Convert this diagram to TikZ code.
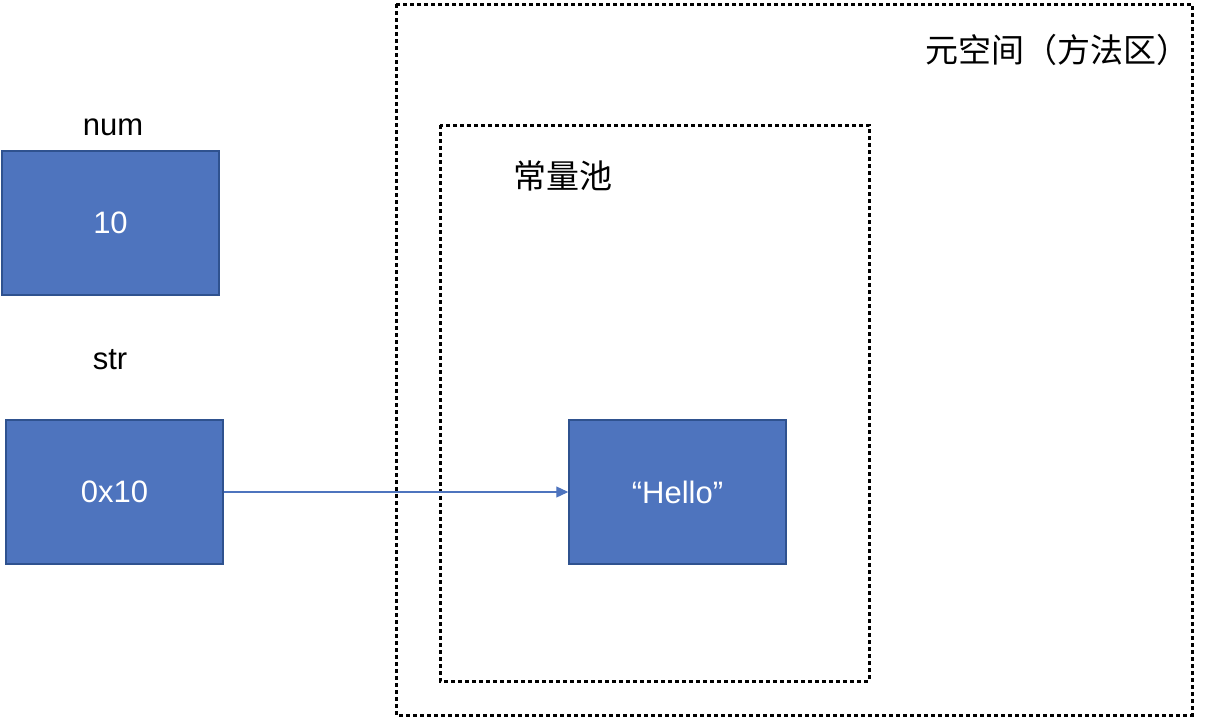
\documentclass[tikz,border=0pt]{standalone}
\usepackage{fontspec}
\setmainfont{Liberation Sans}
\newfontfamily\cjk{Noto Sans CJK SC}
\usetikzlibrary{arrows.meta}
\definecolor{boxfill}{RGB}{78,116,190}
\definecolor{boxline}{RGB}{47,82,143}
\begin{document}
\begin{tikzpicture}[x=1pt,y=-1pt,
  membox/.style={draw=boxline,fill=boxfill,line width=1.5pt,text=white,font=\fontsize{31}{33}\selectfont},
  dotbox/.style={draw=black,line width=3pt,dash pattern=on 4pt off 3pt},
  lbl/.style={font=\fontsize{31}{33}\selectfont},
  cjklbl/.style={font=\cjk\fontsize{33}{35}\selectfont}]
\useasboundingbox (0,0) rectangle (1232,718);
\draw[dotbox] (396,4) rectangle (1192,715);
\draw[dotbox] (440,125) rectangle (869,681);
\node[cjklbl,anchor=east,inner sep=0pt] (meta) at (1190,50) {元空间（方法区）};
\node[cjklbl] (pool) at (563,176) {常量池};
\node[lbl] (numl) at (113,127) {num};
\node[lbl] (strl) at (110,360) {str};
\node[membox,minimum width=217pt,minimum height=144pt,inner sep=0pt] (num) at (110.5,223) {10};
\node[membox,minimum width=217pt,minimum height=144pt,inner sep=0pt] (str) at (114.5,492) {0x10};
\node[membox,minimum width=217pt,minimum height=144pt,inner sep=0pt] (hello) at (677.5,492) {“Hello”};
\draw[boxfill,line width=1.2pt,-{Triangle[length=12pt,width=11pt]}] (str.east) -- (hello.west);
\end{tikzpicture}
\end{document}
